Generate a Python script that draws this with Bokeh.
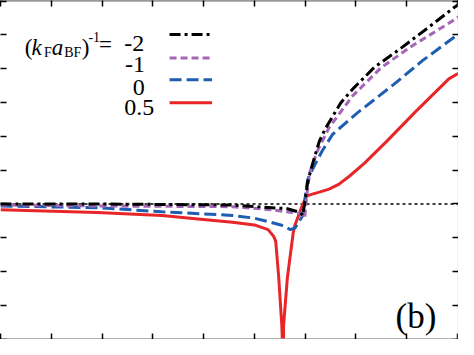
from bokeh.plotting import figure
from bokeh.models import Range1d, LinearAxis, FixedTicker, Label, CustomJSTickFormatter
from bokeh.embed import file_html
from bokeh.resources import INLINE

# ---- data ----
x_m2 = [0.0, 1.90, 4.57, 5.65, 5.90, 5.955, 6.01, 6.05, 6.15, 6.28, 6.41, 6.70, 6.93, 7.36, 7.88, 8.45, 8.94, 9.02]
y_m2 = [0.0, 0.0, -0.03, -0.14, -0.25, -0.34, 0.23, 0.65, 1.21, 1.86, 2.26, 2.99, 3.39, 4.04, 4.60, 5.25, 5.82, 5.90]

x_m1 = [0.0, 1.90, 4.57, 5.33, 5.90, 5.99, 6.03, 6.09, 6.16, 6.22, 6.47, 6.93, 7.50, 8.12, 8.94, 9.02]
y_m1 = [-0.03, -0.06, -0.08, -0.17, -0.28, -0.42, 0.23, 0.93, 1.21, 1.50, 2.26, 3.19, 4.04, 4.69, 5.45, 5.54]

x_0 = [0.0, 1.90, 3.18, 4.57, 5.00, 5.52, 5.71, 5.80, 5.955, 5.99, 6.05, 6.18, 6.34, 6.54, 7.04, 7.74, 8.31, 8.94, 9.02]
y_0 = [-0.06, -0.11, -0.23, -0.34, -0.42, -0.62, -0.76, -0.71, -0.34, 0.08, 0.73, 1.13, 1.58, 2.06, 2.71, 3.53, 4.24, 4.94, 5.03]

x_05 = [0.0, 1.90, 3.18, 3.94, 4.57, 5.00, 5.27, 5.38, 5.42, 5.48, 5.54, 5.56,
        5.575, 5.575, 5.65, 5.765, 5.80, 5.94, 6.03, 6.09, 6.28, 6.47, 6.66, 6.87, 7.17, 7.61, 8.18, 8.83, 9.02]
y_05 = [-0.17, -0.25, -0.34, -0.45, -0.54, -0.62, -0.76, -0.96, -1.10, -2.18, -3.59, -4.43,
        -4.43, -3.59, -2.18, -0.85, -0.62, -0.06, 0.23, 0.27, 0.35, 0.44, 0.58, 0.82, 1.21, 1.86, 2.74, 3.70, 3.87]

legend_values = ["-2", "-1", "0", "0.5"]
x_ticks = [0, 1, 2, 3, 4, 5, 6, 7, 8, 9]
y_ticks = [-4, -3, -2, -1, 0, 1, 2, 3, 4, 5, 6]

X0, X1 = 0.0, 9.02
Y0, Y1 = -4.01, 6.02

p = figure(width=458, height=339, output_backend="svg", toolbar_location=None,
           x_axis_type=None, y_axis_type=None, min_border=0,
           x_range=Range1d(X0, X1), y_range=Range1d(Y0, Y1))
p.outline_line_color = None
p.grid.visible = False
p.background_fill_color = "white"


def mk_axis(ticks, line_color, line_width):
    ax = LinearAxis(ticker=FixedTicker(ticks=ticks, minor_ticks=[]))
    ax.formatter = CustomJSTickFormatter(code="return ''")
    ax.major_label_standoff = 0
    ax.major_tick_in = 6
    ax.major_tick_out = 0
    ax.minor_tick_in = 0
    ax.minor_tick_out = 0
    ax.major_tick_line_color = "black"
    ax.major_tick_line_width = 1.5
    ax.axis_line_color = line_color
    ax.axis_line_width = line_width
    return ax


p.add_layout(mk_axis(x_ticks, "#9a9a9a", 2.5), "below")
p.add_layout(mk_axis(x_ticks, "#9a9a9a", 2.5), "above")
p.add_layout(mk_axis(y_ticks, None, 1), "left")
p.add_layout(mk_axis(y_ticks, "#d0d0d0", 1.5), "right")

# zero reference line
p.line([X0, X1], [0, 0], line_color="black", line_width=1.5, line_dash="3 3")

# curves
p.line(x_05, y_05, line_color="#e8262a", line_width=3)
p.line(x_0, y_0, line_color="#1f5db0", line_width=3, line_dash="12 5")
p.line(x_m1, y_m1, line_color="#a566b8", line_width=3, line_dash="7 4")
p.line(x_m2, y_m2, line_color="black", line_width=3, line_dash="11 4 3 4")


# ---- annotation layout (reference-pixel helpers) ----
def dx(px):
    return px / 52.56


def dy(py):
    return (213 - py) / 35.4


FONT = "Liberation Serif"


def lab(txt, px, py, size, style="normal"):
    p.add_layout(Label(x=dx(px), y=dy(py), text=txt, text_font=FONT,
                       text_font_size=size, text_font_style=style,
                       text_color="black", text_baseline="alphabetic",
                       text_align="left"))


lab("(", 25, 49, "23px")
lab("k", 32, 49, "23px", "italic")
lab("F", 45, 54, "14px")
lab("a", 53, 49, "23px", "italic")
lab("BF", 66, 54, "14px")
lab(")", 84, 49, "23px")
lab("-1", 91, 38, "14px")
lab("=", 102, 46, "23px")

lab(legend_values[0], 128, 45, "24px")
lab(legend_values[1], 129, 67, "24px")
lab(legend_values[2], 137, 91, "24px")
lab(legend_values[3], 128, 112, "24px")

# legend samples
p.line([dx(175), dx(219)], [dy(35.5), dy(35.5)], line_color="black", line_width=3, line_dash="11 4 3 4")
p.line([dx(175), dx(219)], [dy(60), dy(60)], line_color="#a566b8", line_width=3, line_dash="7 4")
p.line([dx(175), dx(219)], [dy(83), dy(83)], line_color="#1f5db0", line_width=3, line_dash="12 5")
p.line([dx(175), dx(219)], [dy(107), dy(107)], line_color="#e8262a", line_width=3)

lab("(b)", 409, 331, "35px")

open("out.html", "w").write(file_html(p, INLINE))
